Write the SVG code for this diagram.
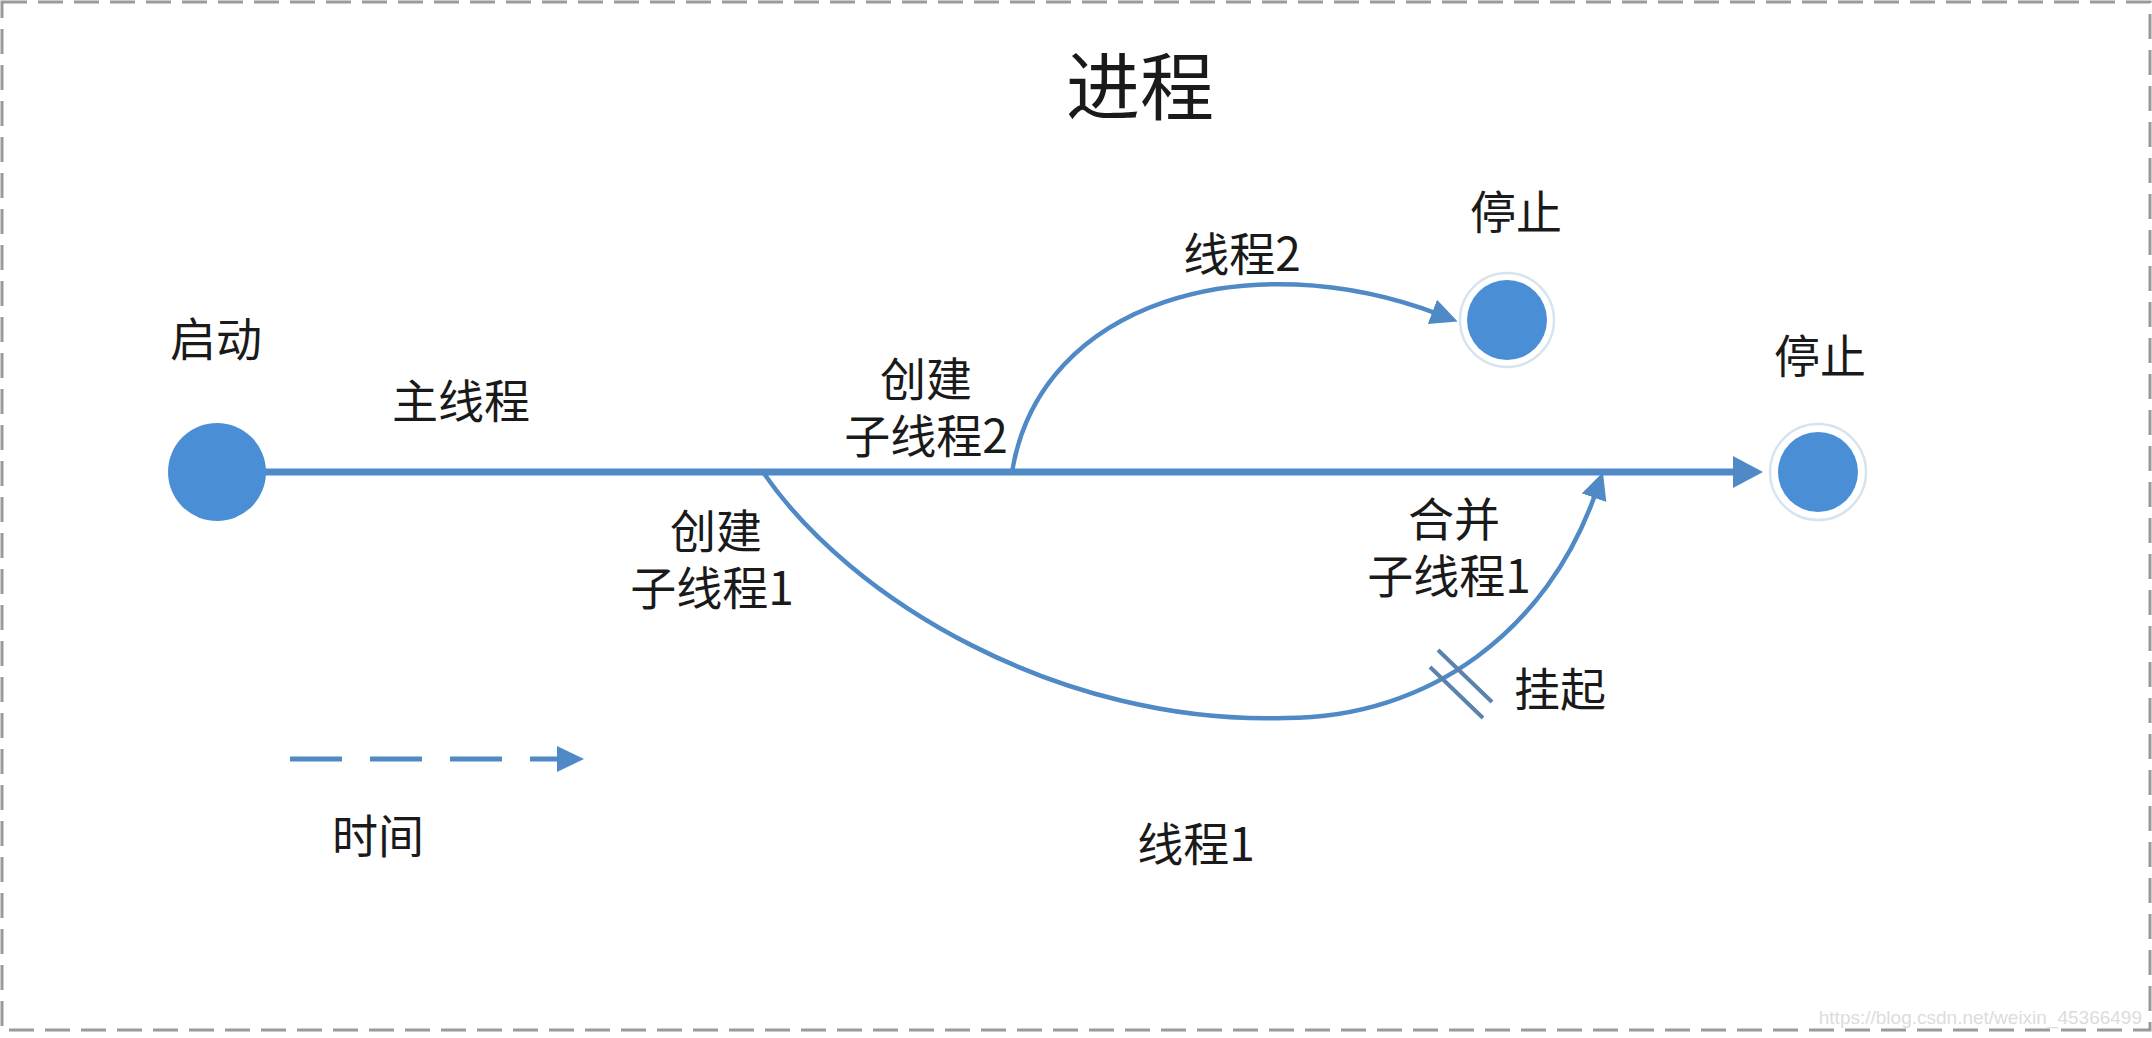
<svg xmlns="http://www.w3.org/2000/svg" width="2152" height="1038" viewBox="0 0 2152 1038">
<style>
text{font-family:"Microsoft YaHei","Noto Sans CJK SC","Noto Sans",sans-serif;fill:#1a1a1a;text-anchor:middle}
.lbl{font-size:46px}
.title{font-size:74px}
.dot{fill:#4a8fd6}
.ring{fill:#ffffff;stroke:#d6e4ef;stroke-width:2.5}
.main{fill:none;stroke:#4f89c6;stroke-width:7}
.thr{fill:none;stroke:#4f89c6;stroke-width:4.5}
.tick{stroke:#5a82ad;stroke-width:4}
.time{fill:none;stroke:#4f89c6;stroke-width:5;stroke-dasharray:52 28}
.frame{fill:none;stroke:#9a9a9a;stroke-width:3;stroke-dasharray:25 11}
.wm{font-family:"Liberation Sans",sans-serif;font-size:19px;fill:#dcdcdc;text-anchor:end}
</style>
<defs>
<marker id="arrBig" markerUnits="userSpaceOnUse" markerWidth="32" markerHeight="34" refX="7" refY="16" orient="auto"><path d="M0,0 L30,16 L0,32 Z" fill="#4f89c6"/></marker>
<marker id="arrSm" markerUnits="userSpaceOnUse" markerWidth="30" markerHeight="28" refX="6" refY="13" orient="auto"><path d="M0,0 L27,13 L0,26 Z" fill="#4f89c6"/></marker>
<marker id="arrTime" markerUnits="userSpaceOnUse" markerWidth="30" markerHeight="28" refX="3" refY="13" orient="auto"><path d="M0,0 L27,13 L0,26 Z" fill="#4f89c6"/></marker>
</defs>
<rect class="frame" x="2" y="2" width="2148" height="1028"/>
<text class="title" x="1140" y="114">进程</text>
<g id="connectors">
<path id="main-thread" class="main" d="M262,472 L1740,472" marker-end="url(#arrBig)"/>
<path id="thread2" class="thr" d="M1012,472 C1040,300 1250,243 1438,314" marker-end="url(#arrSm)"/>
<path id="thread1" class="thr" d="M763,472 C850,600 1060,725 1285,718 C1430,718 1548,630 1596,492" marker-end="url(#arrSm)"/>
<line class="tick" x1="1438" y1="650" x2="1492" y2="702"/>
<line class="tick" x1="1430" y1="667" x2="1483" y2="718"/>
<path id="time-arrow" class="time" d="M290,759 L560,759" marker-end="url(#arrTime)"/>
</g>
<g id="start-node">
<circle class="dot" cx="217" cy="472" r="49"/>
<text class="lbl" x="216" y="356">启动</text>
</g>
<g id="stop-thread2">
<circle class="ring" cx="1507" cy="320" r="47"/>
<circle class="dot" cx="1507" cy="320" r="40"/>
<text class="lbl" x="1516" y="229">停止</text>
</g>
<g id="stop-main">
<circle class="ring" cx="1818" cy="472" r="48"/>
<circle class="dot" cx="1818" cy="472" r="40"/>
<text class="lbl" x="1820" y="373">停止</text>
</g>
<g id="labels">
<text class="lbl" x="461" y="418">主线程</text>
<text class="lbl" x="926" y="396">创建<tspan x="926" dy="57">子线程2</tspan></text>
<text class="lbl" x="1242" y="271">线程2</text>
<text class="lbl" x="716" y="548">创建<tspan x="712" dy="57">子线程1</tspan></text>
<text class="lbl" x="1454" y="536">合并<tspan x="1449" dy="57">子线程1</tspan></text>
<text class="lbl" x="1560" y="706">挂起</text>
<text class="lbl" x="378" y="853">时间</text>
<text class="lbl" x="1196" y="861">线程1</text>
</g>
<text class="wm" x="2142" y="1024">https://blog.csdn.net/weixin_45366499</text>
</svg>
